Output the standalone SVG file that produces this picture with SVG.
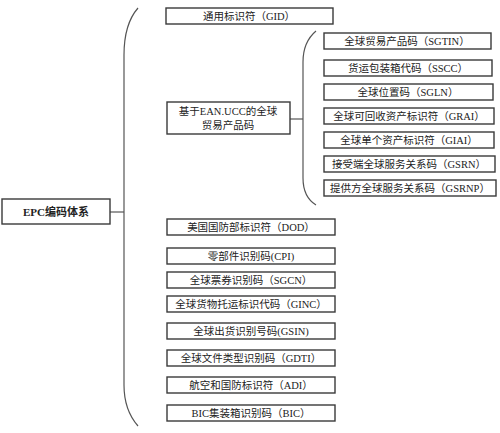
<svg xmlns="http://www.w3.org/2000/svg" width="500" height="433" viewBox="0 0 500 433">
<style>
.box{fill:#fff;stroke:#3a3a3a;stroke-width:1.4}
.t{font-family:"Liberation Serif","Noto Sans CJK SC",serif;font-size:10.5px;fill:#222;text-anchor:middle;dominant-baseline:central}
.b{font-weight:bold;font-size:11px}
.c{fill:none;stroke:#555;stroke-width:1.2}
</style>
<rect width="500" height="433" fill="#fff"/>
<g id="connectors">
<path class="c" d="M138,8 Q124,24 124,55 L124,385 Q124,410 138,426"/>
<path class="c" d="M110,212 H124"/>
<path class="c" d="M316,31 Q303,42 303,62 L303,178 Q303,197 316,205"/>
<path class="c" d="M290,119 H303"/>
</g>
<g id="epc"><rect class="box" x="2" y="199" width="108" height="25"/><text class="t b" x="56" y="212">EPC编码体系</text></g>
<g id="gid"><rect class="box" x="166" y="8" width="167" height="16"/><text class="t" x="249" y="16">通用标识符（GID）</text></g>
<g id="eanucc"><rect class="box" x="167" y="102" width="123" height="32"/><text class="t" x="228" y="111">基于EAN.UCC的全球</text><text class="t" x="228" y="125">贸易产品码</text></g>
<g id="sgtin"><rect class="box" x="324" y="33" width="167" height="16"/><text class="t" x="407" y="41">全球贸易产品码（SGTIN）</text></g>
<g id="sscc"><rect class="box" x="324" y="60" width="168" height="16"/><text class="t" x="408" y="68">货运包装箱代码（SSCC）</text></g>
<g id="sgln"><rect class="box" x="324" y="84" width="169" height="16"/><text class="t" x="408" y="92">全球位置码（SGLN）</text></g>
<g id="grai"><rect class="box" x="324" y="108" width="170" height="16"/><text class="t" x="409" y="116">全球可回收资产标识符（GRAI）</text></g>
<g id="giai"><rect class="box" x="324" y="132" width="170" height="16"/><text class="t" x="409" y="140">全球单个资产标识符（GIAI）</text></g>
<g id="gsrn"><rect class="box" x="324" y="156" width="171" height="16"/><text class="t" x="409" y="164">接受端全球服务关系码（GSRN）</text></g>
<g id="gsrnp"><rect class="box" x="324" y="180" width="172" height="16"/><text class="t" x="410" y="188">提供方全球服务关系码（GSRNP）</text></g>
<g id="dod"><rect class="box" x="167" y="219" width="168" height="16"/><text class="t" x="251" y="227">美国国防部标识符（DOD）</text></g>
<g id="cpi"><rect class="box" x="167" y="248" width="168" height="16"/><text class="t" x="251" y="256">零部件识别码(CPI)</text></g>
<g id="sgcn"><rect class="box" x="167" y="272" width="168" height="16"/><text class="t" x="251" y="280">全球票券识别码（SGCN）</text></g>
<g id="ginc"><rect class="box" x="167" y="296" width="168" height="16"/><text class="t" x="251" y="304">全球货物托运标识代码（GINC）</text></g>
<g id="gsin"><rect class="box" x="167" y="323" width="168" height="16"/><text class="t" x="251" y="331">全球出货识别号码(GSIN)</text></g>
<g id="gdti"><rect class="box" x="167" y="350" width="168" height="16"/><text class="t" x="251" y="358">全球文件类型识别码（GDTI）</text></g>
<g id="adi"><rect class="box" x="167" y="377" width="168" height="16"/><text class="t" x="251" y="385">航空和国防标识符（ADI）</text></g>
<g id="bic"><rect class="box" x="167" y="405" width="168" height="16"/><text class="t" x="251" y="413">BIC集装箱识别码（BIC）</text></g>
</svg>
